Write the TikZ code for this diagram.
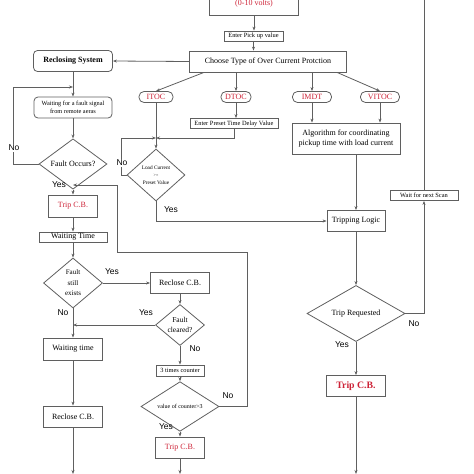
\documentclass[tikz,border=0pt]{standalone}
\usepackage{fontspec}
\setmainfont{Liberation Serif}
\setsansfont{Liberation Sans}
\usepackage{tikz}
\usetikzlibrary{shapes.geometric}
\usetikzlibrary{arrows.meta}
\usetikzlibrary{positioning}
\definecolor{flowgray}{RGB}{95,95,95}
\definecolor{flowred}{RGB}{205,35,55}
\tikzset{flow/.style={draw=flowgray,-{Stealth[length=4pt,width=3pt]}},plain/.style={draw=flowgray},
block/.style={draw=flowgray,rectangle,inner sep=0pt,align=center,font=\fontsize{8}{9.5}\selectfont},
smallblock/.style={block,font=\fontsize{6.4}{7.5}\selectfont},
roundblock/.style={block,rounded corners=4pt},
method/.style={block,rounded corners=5pt,text=flowred},
choice/.style={draw=flowgray,diamond,inner sep=0pt,align=center,font=\fontsize{8}{10}\selectfont},
answer/.style={inner sep=1pt,font=\sffamily\fontsize{8.5}{10}\selectfont}}

\begin{document}
\begin{tikzpicture}[x=1pt,y=-1pt,line width=0.8pt]
\useasboundingbox (0,0) rectangle (474,474);
\clip (0,0) rectangle (474,474);
% protection branch
\node[block,text=flowred,minimum width=89pt,minimum height=22pt] (volts) at (254,4) {(0-10 volts)};
\node[smallblock,minimum width=59pt,minimum height=10pt] (pickup) at (253.5,36) {Enter Pick up value};
\node[block,minimum width=157pt,minimum height=21pt] (choose) at (268,61.5) {Choose Type of Over Current Protction};
\node[method,minimum width=34pt,minimum height=11pt] (itoc) at (156,97) {ITOC};
\node[method,minimum width=30pt,minimum height=11pt] (dtoc) at (236,97) {DTOC};
\node[method,minimum width=39pt,minimum height=11pt] (imdt) at (312,97) {IMDT};
\node[method,minimum width=39pt,minimum height=11pt] (vitoc) at (380,97) {VITOC};
\node[smallblock,minimum width=88pt,minimum height=10pt] (preset) at (234,123.5) {Enter Preset Time Delay Value};
\node[block,minimum width=108pt,minimum height=31pt] (algo) at (346,138.5) {Algorithm for coordinating\\pickup time with load current};
\coordinate (join) at (156,138);
\node[choice,font=\fontsize{5.3}{7.5}\selectfont,minimum width=58pt,minimum height=52pt] (load) at (156,175) {Load Current\\{\fontsize{4}{5}\selectfont >=}\\Preset Value};
\node[block,minimum width=58pt,minimum height=21pt] (logic) at (356,221) {Tripping Logic};
\node[smallblock,minimum width=68pt,minimum height=10pt] (scan) at (424,195.5) {Wait for next Scan};
\node[choice,minimum width=98pt,minimum height=51pt] (request) at (356,313.5) {Trip Requested};
\node[block,text=flowred,font=\fontsize{9.8}{11}\selectfont\bfseries,minimum width=59pt,minimum height=21pt] (tripmain) at (356,386) {Trip C.B.};
\coordinate (topend) at (424,0);
\coordinate (endC) at (356,474);
% reclosing branch
\node[roundblock,font=\fontsize{8}{9.5}\selectfont\bfseries,minimum width=79pt,minimum height=21pt] (reclosing) at (73,61) {Reclosing System};
\node[roundblock,font=\fontsize{6.3}{8.5}\selectfont,minimum width=78pt,minimum height=21pt] (waitsignal) at (73,107.5) {Waiting for a fault signal\\from remote aeras};
\coordinate (loopin) at (73,87);
\node[choice,minimum width=68pt,minimum height=30pt] (occurs) at (73,164) {Fault Occurs?};
\coordinate (retry) at (73,185);
\node[block,text=flowred,minimum width=49pt,minimum height=22pt] (tripfirst) at (73,206) {Trip C.B.};
\node[block,minimum width=68pt,minimum height=10pt] (waitA) at (73,237) {Waiting Time};
\node[choice,font=\fontsize{7}{10.5}\selectfont,minimum width=59pt,minimum height=50pt] (exists) at (73,283) {Fault\\still\\exists};
\node[block,minimum width=59pt,minimum height=21pt] (recloseA) at (180,283) {Reclose C.B.};
\node[choice,font=\fontsize{7.5}{10}\selectfont,minimum width=49pt,minimum height=41pt] (cleared) at (180,325) {Fault\\cleared?};
\node[block,minimum width=59pt,minimum height=22pt] (waitB) at (73,349) {Waiting time};
\node[block,minimum width=59pt,minimum height=21pt] (recloseB) at (73,416.5) {Reclose C.B.};
\node[smallblock,minimum width=48pt,minimum height=11pt] (counter) at (180,370.5) {3 times counter};
\node[choice,font=\fontsize{6}{7}\selectfont,minimum width=78pt,minimum height=31pt] (limit) at (180,406.5) {value of counter>3};
\node[block,text=flowred,minimum width=49pt,minimum height=21pt] (tripsecond) at (180,447.5) {Trip C.B.};
\coordinate (endA) at (73,474);
\coordinate (endB) at (180,474);

% connectors, protection branch
\draw[flow] (volts.south) -- (volts.south |- pickup.north);
\draw[flow] (pickup.south) -- (pickup.south |- choose.north);
\draw[flow] (choose.west) -- (reclosing.east);
\draw[flow] ([xshift=-64pt]choose.south) -- (itoc.north);
\draw[flow] (choose.south -| dtoc.north) -- (dtoc.north);
\draw[flow] (choose.south -| imdt.north) -- (imdt.north);
\draw[flow] ([xshift=69pt]choose.south) -- (vitoc.north);
\draw[plain] (itoc.south) -- (join);
\draw[flow] (dtoc.south) -- (dtoc.south |- preset.north);
\draw[flow] (preset.south) |- (join);
\draw[flow] (load.west) -- ++(-5,0) |- (join);
\draw[flow] (join) -- (load.north);
\draw[flow] (load.south) |- (logic.west);
\draw[flow] (imdt.south) -- (imdt.south |- algo.north);
\draw[flow] (vitoc.south) -- (vitoc.south |- algo.north);
\draw[flow] (algo.south -| logic.north) -- (logic.north);
\draw[flow] (logic.south) -- (request.north);
\draw[flow] (request.east) -| (scan.south);
\draw[plain] (scan.north) -- (topend);
\draw[flow] (request.south) -- (tripmain.north);
\draw[flow] (tripmain.south) -- (endC);
% connectors, reclosing branch
\draw[flow] (reclosing.south) -- (waitsignal.north);
\draw[flow] (occurs.west) -- ++(-25,0) |- (loopin);
\draw[flow] (waitsignal.south) -- (occurs.north);
\draw[flow] (occurs.south) -- (tripfirst.north);
\draw[flow] (limit.east) -- ++(28,0) |- (117,252) |- (retry);
\draw[flow] (tripfirst.south) -- (waitA.north);
\draw[flow] (waitA.south) -- (exists.north);
\draw[flow] (exists.east) -- (recloseA.west);
\draw[flow] (recloseA.south) -- (cleared.north);
\draw[flow] (cleared.west) -- (cleared.west -| exists.south);
\draw[flow] (exists.south) -- (waitB.north);
\draw[flow] (waitB.south) -- (recloseB.north);
\draw[flow] (recloseB.south) -- (endA);
\draw[flow] (cleared.south) -- (counter.north);
\draw[flow] (counter.south) -- (limit.north);
\draw[flow] (limit.south) -- (tripsecond.north);
\draw[flow] (tripsecond.south) -- (endB);

% Yes / No
\node[answer,fill=white] (noLoad) at (122,163) {No};
\node[answer] (yesLoad) at (171,210) {Yes};
\node[answer] (noRequest) at (414,324) {No};
\node[answer] (yesRequest) at (342,345) {Yes};
\node[answer,fill=white] (noOccurs) at (14,148) {No};
\node[answer] (yesOccurs) at (59,185) {Yes};
\node[answer] (yesExists) at (112,272) {Yes};
\node[answer] (noExists) at (63,313) {No};
\node[answer] (yesCleared) at (146,313) {Yes};
\node[answer] (noCleared) at (195,349) {No};
\node[answer] (noLimit) at (228,396) {No};
\node[answer] (yesLimit) at (166,427) {Yes};
\end{tikzpicture}
\end{document}
